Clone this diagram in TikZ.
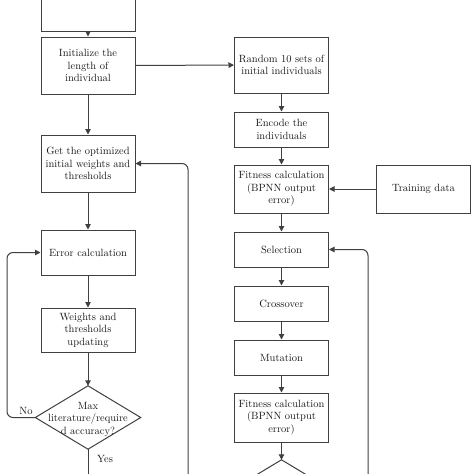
\documentclass[tikz,border=0pt]{standalone}
\usetikzlibrary{shapes.geometric,arrows.meta}
\begin{document}
\begin{tikzpicture}[x=1pt,y=1pt,
  line/.style={draw=black!75,line width=1pt},
  arr/.style={line,-{Triangle[length=5.5pt,width=5.5pt]}},
  box/.style={draw=black!75,line width=1pt,fill=white,align=center,inner sep=1pt,
    font=\fontsize{10.5}{12.5}\selectfont,text=black!90,minimum width=94pt},
  dia/.style={align=center,inner sep=0pt,
    font=\fontsize{10.5}{12.5}\selectfont,text=black!90,minimum width=105pt,minimum height=63pt},
  diaoutline/.style={draw=black!75,line width=1pt,fill=white},
  lbl/.style={font=\fontsize{10.5}{12.5}\selectfont,text=black!90}]
\useasboundingbox (0,0) rectangle (474,-474);
\clip (0,0) rectangle (474,-474);
% left column
\node[box,minimum height=40pt] (top) at (88,-11) {};
\node[box,minimum height=57pt] (init) at (88,-65.5) {Initialize the\\length of\\individual};
\node[box,minimum height=57pt] (opt) at (88,-163.5) {Get the optimized\\initial weights and\\thresholds};
\node[box,minimum height=45pt] (err) at (88,-252.5) {Error calculation};
\node[box,minimum height=44pt] (upd) at (88,-330) {Weights and\\thresholds\\updating};
\node[dia] (max) at (88,-417.5) {};
\draw[diaoutline] (max.north) -- (max.east) -- (max.south) -- (max.west) -- cycle;
\node[dia] (maxtext) at (88,-419) {Max\\literature/require\\d accuracy?};
\coordinate (yesend) at (88,-480);
\node[lbl] (no) at (26,-411) {No};
\node[lbl] (yes) at (105,-459) {Yes};
% right column
\node[box,minimum height=56pt] (rand) at (281.5,-65) {Random 10 sets of\\initial individuals};
\node[box,minimum height=35pt] (enc) at (281.5,-129.5) {Encode the\\individuals};
\node[box,minimum height=48pt] (fit) at (281.5,-189) {Fitness calculation\\(BPNN output\\error)};
\node[box,minimum height=48pt] (train) at (423.5,-189) {Training data};
\node[box,minimum height=35pt] (sel) at (281.5,-249.5) {Selection};
\node[box,minimum height=35pt] (cro) at (281.5,-303.5) {Crossover};
\node[box,minimum height=35pt] (mut) at (281.5,-357.5) {Mutation};
\node[box,minimum height=49pt] (fit2) at (281.5,-417.5) {Fitness calculation\\(BPNN output\\error)};
\node[dia] (d2) at (281.5,-491.5) {};
\draw[diaoutline] (d2.north) -- (d2.east) -- (d2.south) -- (d2.west) -- cycle;
% feedback coordinates
\coordinate (fbA) at (188,-480);
\coordinate (fbB) at (368,-480);
% connectors
\draw[arr] (top) -- (init);
\draw[arr] (init) -- (opt);
\draw[arr] (opt) -- (err);
\draw[arr] (err) -- (upd);
\draw[arr] (upd) -- (max.north);
\draw[arr] (max.south) -- (yesend);
\draw[arr,rounded corners=6pt] (max.west) -| (7,-300) |- (err.west);
\draw[arr] (init) -- (rand);
\draw[arr] (rand) -- (enc);
\draw[arr] (enc) -- (fit);
\draw[arr] (train) -- (fit);
\draw[arr] (fit) -- (sel);
\draw[arr] (sel) -- (cro);
\draw[arr] (cro) -- (mut);
\draw[arr] (mut) -- (fit2);
\draw[arr] (fit2) -- (d2.north);
\draw[arr,rounded corners=6pt] (fbA) |- (opt.east);
\draw[arr,rounded corners=6pt] (fbB) |- (sel.east);
\end{tikzpicture}
\end{document}
